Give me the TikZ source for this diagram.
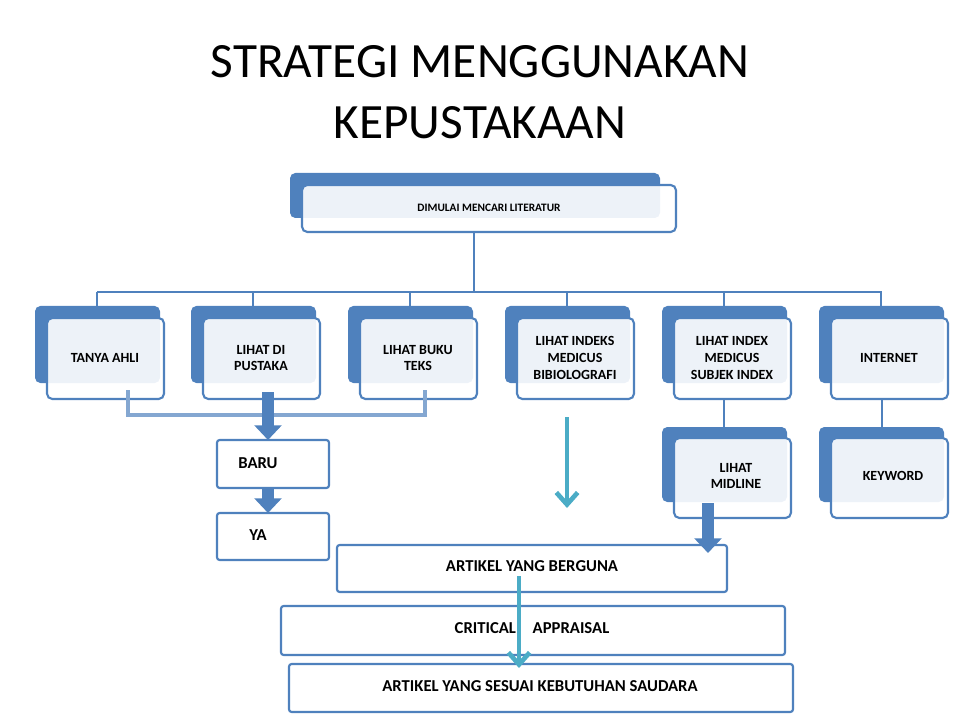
\documentclass[tikz,border=0pt]{standalone}
\usepackage{fontspec}
\setmainfont{Carlito}
\usetikzlibrary{arrows.meta}
\definecolor{bl}{HTML}{4F81BD}
\definecolor{bd}{HTML}{3C6496}
\definecolor{tl}{HTML}{4BACC6}
\begin{document}
\begin{tikzpicture}[x=0.75pt,y=-0.75pt,
  back/.style={fill=bl,rounded corners=4pt},
  front/.style={draw=bl,line width=1.6pt,fill=white,fill opacity=0.9,text opacity=1,rounded corners=4pt},
  lbl/.style={font=\bfseries\fontsize{10.5}{12.5}\selectfont,align=center,text=black},
  conn/.style={draw=bl,line width=1.5pt},
  plain/.style={draw=bl,line width=1.6pt,fill=white,rounded corners=2pt},
  blk/.style={draw=bd,line width=9pt,-{Triangle[width=20pt,length=11pt]}},
  teal/.style={draw=tl,line width=3.5pt,-{Straight Barb[width=16pt,length=9pt,line width=3.5pt]}}]
\useasboundingbox (0,0) rectangle (960,720);
\node[font=\fontsize{37}{46}\selectfont,align=center] (title) at (480,92) {STRATEGI MENGGUNAKAN\\KEPUSTAKAAN};
% top card
\fill[back] (290,173) rectangle (660,218);
\draw[front] (302,185) rectangle (676,232);
\node[lbl,font=\bfseries\fontsize{8.5}{10}\selectfont] (top) at (489,208) {DIMULAI MENCARI LITERATUR};
\coordinate (topb) at (474,232);
% row cards
\foreach \bx/\nm/\txt in {35/a/TANYA AHLI,191/b/LIHAT DI\\PUSTAKA,348/c/LIHAT BUKU\\TEKS,505/d/LIHAT INDEKS\\MEDICUS\\BIBIOLOGRAFI,662/e/LIHAT INDEX\\MEDICUS\\SUBJEK INDEX,819/f/INTERNET}{
  \fill[back] (\bx,306) rectangle (\bx+125,383);
  \draw[front] (\bx+12,318) rectangle (\bx+129,399);
  \node[lbl] (\nm) at (\bx+70,358) {\txt};
  \coordinate (\nm t) at (\bx+62,306);
}
\foreach \bx/\nm/\txt in {662/g/LIHAT\\MIDLINE,819/h/KEYWORD}{
  \fill[back] (\bx,427) rectangle (\bx+125,502);
  \draw[front] (\bx+12,438) rectangle (\bx+129,518);
  \node[lbl] (\nm) at (\bx+74,476) {\txt};
}
\draw[conn] (topb) -- (474,292);
\draw[conn] (97,292) -- (882,292);
\foreach \n in {a,b,c,d,e,f}{\draw[conn] (\n t) -- (\n t |- 0,292);}
\draw[conn] (724,399) -- (724,427);
\draw[conn] (882,399) -- (882,427);
% bracket
\draw[draw=bl!70,line width=3pt] (128,390) -- (128,415) -- (425,415) -- (425,390);
% lower boxes
\draw[plain] (217,440) rectangle (329,488); \node[lbl,font=\bfseries\fontsize{12.5}{14}\selectfont] (baru) at (258,463) {BARU};
\draw[plain] (217,513) rectangle (329,560); \node[lbl,font=\bfseries\fontsize{12.5}{14}\selectfont] (ya) at (258,535) {YA};
\draw[plain] (337,545) rectangle (727,592); \node[lbl,font=\bfseries\fontsize{12.5}{14}\selectfont] (ab) at (532,566) {ARTIKEL YANG BERGUNA};
\draw[plain] (281,606) rectangle (785,655); \node[lbl,font=\bfseries\fontsize{12.5}{14}\selectfont] (ca) at (532,628) {CRITICAL\quad APPRAISAL};
\draw[plain] (289,664) rectangle (793,712); \node[lbl,font=\bfseries\fontsize{12.5}{14}\selectfont] (as) at (540,686) {ARTIKEL YANG SESUAI KEBUTUHAN SAUDARA};
% arrows
\draw[blk,draw=bl] (268,392) -- (268,440);
\draw[blk,draw=bl] (268,488) -- (268,513);
\draw[blk,draw=bl] (708,503) -- (708,553);
\draw[teal] (567,417) -- (567,508);
\draw[teal] (519,576) -- (519,668);
\end{tikzpicture}
\end{document}
